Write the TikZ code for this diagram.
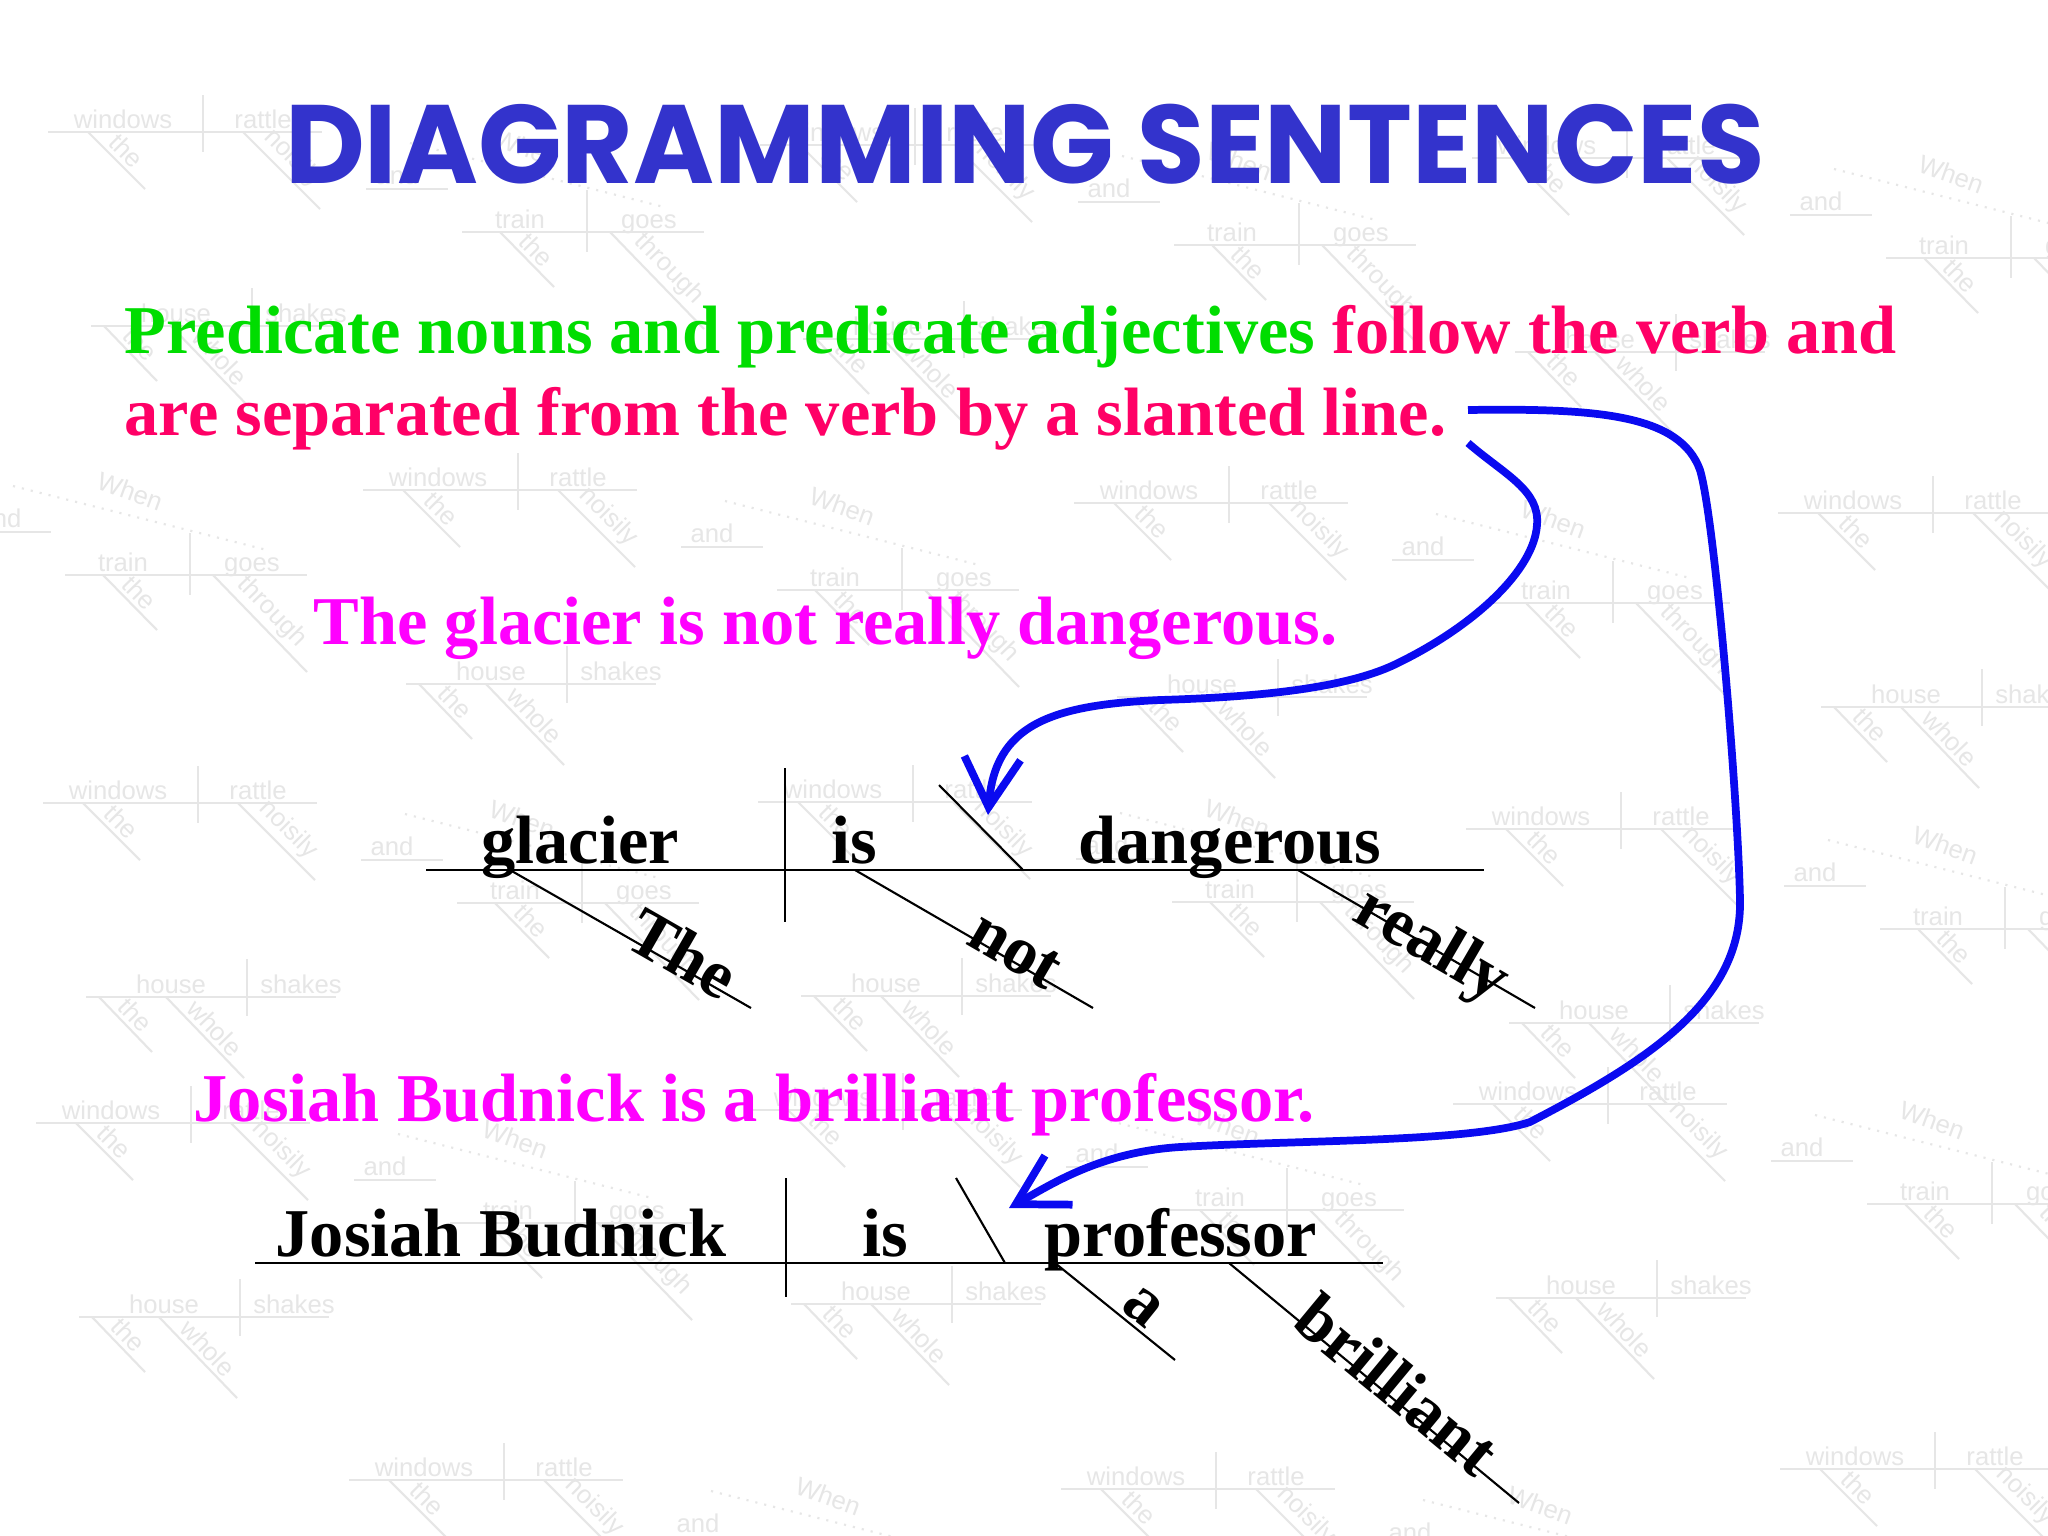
\documentclass[tikz,border=0pt]{standalone}
\usepackage{fontspec}
\setmainfont{Liberation Serif}
\setsansfont{Liberation Sans}
\newfontfamily\titlefont{Poppins}
\usetikzlibrary{arrows.meta}

\definecolor{titleblue}{RGB}{51,51,204}
\definecolor{nounsgreen}{RGB}{0,221,0}
\definecolor{rulepink}{RGB}{255,0,102}
\definecolor{examplemag}{RGB}{255,0,255}
\definecolor{arrowblue}{RGB}{10,10,240}
\definecolor{faint}{RGB}{230,230,230}

\tikzset{
  txt/.style={inner sep=0pt, font=\fontsize{19.45}{23}\selectfont\bfseries},
  word/.style={txt, anchor=base},
  mod/.style={txt, sloped, pos=#1},
  baseline/.style={line width=0.8pt},
  rule/.style={line width=0.6pt},
  pointer/.style={arrowblue, line width=2.2pt, -{Straight Barb[length=14pt,width=16pt]}},
  wm/.style={color=faint, line width=0.6pt},
  wmword/.style={inner sep=0pt, anchor=base, font=\fontsize{7.3}{8}\sffamily},
  wmmod/.style={wmword, sloped, midway, anchor=south, yshift=1pt}
}

% faint sentence diagram used as the slide background
\newcommand\wmtile[2]{%
  \begin{scope}[shift={(#1,#2)}, wm]
    \draw (0,0) -- (274,0) (155,-37) -- (155,20);
    \node[wmword] at (75,-4) {windows};
    \node[wmword] at (215,-4) {rattle};
    \draw (40,0) -- (97,57) node[wmmod] {the};
    \draw (195,0) -- (272,77) node[wmmod] {noisily};
    \draw (43,194) -- (293,194) (204,156) -- (204,213);
    \node[wmword] at (128,190) {house};
    \node[wmword] at (258,190) {shakes};
    \draw (56,194) -- (109,249) node[wmmod] {the};
    \draw (123,194) -- (201,275) node[wmmod] {whole};
    \draw (414,100) -- (656,100) (539,58) -- (539,120);
    \node[wmword] at (472,96) {train};
    \node[wmword] at (601,96) {goes};
    \draw (452,100) -- (506,155) node[wmmod] {the};
    \draw (562,100) -- (656,197) node[wmmod] {through};
    \draw[dotted] (362,11) -- (616,75);
    \node[wmword, rotate=-20] at (476,25) {When};
    \draw (318,57) -- (400,57);
    \node[wmword] at (349,52) {and};
  \end{scope}}

\begin{document}
\begin{tikzpicture}[x=0.01cm, y=-0.01cm]
  \fill[white] (0,0) rectangle (2048,1536);
  \useasboundingbox (0,0) rectangle (2048,1536);

  \foreach \ox/\oy in {48/132, 760/145, 1472/158, 363/490, 1074/503, 1778/513,
      43/803, 758/802, 1466/829, 36/1123, 748/1110, 1453/1104,
      349/1480, 1061/1489, 1780/1469, -349/475}
    \wmtile{\ox}{\oy};

  % title and rule
  \node[inner sep=0pt, anchor=base, text=titleblue,
    font=\titlefont\fontsize{31.7}{36}\selectfont\bfseries] (title) at (1025,183)
    {\scalebox{0.985}[1]{DIAGRAMMING SENTENCES}};
  \node[txt, anchor=base west, text=rulepink] (rule1) at (124,353)
    {\textcolor{nounsgreen}{Predicate nouns and predicate adjectives} follow the verb and};
  \node[txt, anchor=base west, text=rulepink] (rule2) at (124,435)
    {are separated from the verb by a slanted line.};

  % first sentence
  \node[txt, anchor=base west, text=examplemag] (ex1) at (313,644)
    {The glacier is not really dangerous.};
  \coordinate (b1w) at (426,870);
  \coordinate (b1e) at (1484,870);
  \coordinate (d1t) at (785,768);
  \coordinate (d1b) at (785,922);
  \coordinate (p1t) at (939,785);
  \coordinate (p1b) at (1023,870);
  \draw[baseline] (b1w) -- (b1e);
  \draw[rule] (d1t) -- (d1b);
  \draw[rule] (p1t) -- (p1b);
  \node[word] (glacier) at (580,863) {glacier};
  \node[word] (is1) at (854,863) {is};
  \node[word] (dangerous) at (1230,863) {dangerous};
  \coordinate (m1a) at (510,870);
  \coordinate (m1b) at (751,1008);
  \coordinate (m2a) at (855,870);
  \coordinate (m2b) at (1093,1008);
  \coordinate (m3a) at (1298,870);
  \coordinate (m3b) at (1535,1008);
  \draw[rule] (m1a) -- (m1b) node[mod=.69, yshift=4pt] (the) {The};
  \draw[rule] (m2a) -- (m2b) node[mod=.65, yshift=3pt] (not) {not};
  \draw[rule] (m3a) -- (m3b) node[mod=.56] (really) {really};

  % second sentence
  \node[txt, anchor=base west, text=examplemag] (ex2) at (193,1121)
    {Josiah Budnick is a brilliant professor.};
  \coordinate (b2w) at (255,1263);
  \coordinate (b2e) at (1383,1263);
  \coordinate (d2t) at (786,1178);
  \coordinate (d2b) at (786,1297);
  \coordinate (p2t) at (956,1178);
  \coordinate (p2b) at (1005,1263);
  \draw[baseline] (b2w) -- (b2e);
  \draw[rule] (d2t) -- (d2b);
  \draw[rule] (p2t) -- (p2b);
  \node[word] (josiah) at (501,1256) {Josiah Budnick};
  \node[word] (is2) at (885,1256) {is};
  \node[word] (professor) at (1181,1256) {professor};
  \coordinate (m4a) at (1055,1263);
  \coordinate (m4b) at (1175,1360);
  \coordinate (m5a) at (1229,1263);
  \coordinate (m5b) at (1519,1503);
  \draw[rule] (m4a) -- (m4b) node[mod=.62, yshift=6pt] (a) {a};
  \draw[rule] (m5a) -- (m5b) node[mod=.55, yshift=4pt] (brilliant) {brilliant};

  % arrows from the rule to the slanted lines
  \coordinate (a1s) at (1468,443);
  \coordinate (a1e) at (988,815);
  \coordinate (a2s) at (1468,410);
  \coordinate (a2e) at (1009,1208);
  \draw[pointer] (a1s) .. controls (1505,475) and (1540,490) .. (1537,525)
    .. controls (1534,570) and (1475,625) .. (1400,662)
    .. controls (1350,688) and (1260,697) .. (1160,700)
    .. controls (1050,705) and (995,725) .. (a1e);
  \draw[pointer] (a2s) .. controls (1600,408) and (1680,415) .. (1700,470)
    .. controls (1715,520) and (1738,800) .. (1740,900)
    .. controls (1742,1000) and (1650,1060) .. (1530,1122)
    .. controls (1470,1142) and (1300,1140) .. (1180,1147)
    .. controls (1100,1152) and (1050,1185) .. (a2e);
\end{tikzpicture}
\end{document}
